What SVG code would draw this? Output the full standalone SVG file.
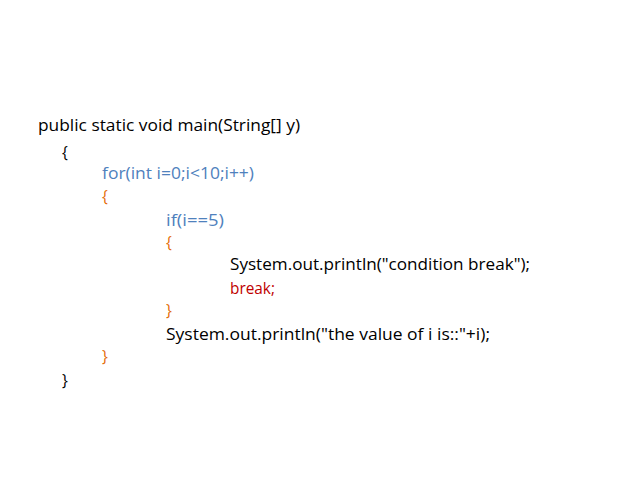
<svg xmlns="http://www.w3.org/2000/svg" width="638" height="479" viewBox="0 0 638 479">
<style>
text{font-family:"Open Sans","Liberation Sans",sans-serif;font-size:15.5px}
.k{fill:#000}.b{fill:#4f81bd}.o{fill:#e46c0a}.r{fill:#c00000}
</style>
<rect width="638" height="479" fill="#fff"/>
<g id="code">
<text class="k" x="38" y="131" textLength="262" lengthAdjust="spacingAndGlyphs">public static void main(String[] y)</text>
<text class="k" x="62" y="158">{</text>
<text class="b" x="102" y="179" textLength="152" lengthAdjust="spacingAndGlyphs">for(int i=0;i&lt;10;i++)</text>
<text class="o" x="102" y="202">{</text>
<text class="b" x="166" y="226" textLength="58" lengthAdjust="spacingAndGlyphs">if(i==5)</text>
<text class="o" x="166" y="248">{</text>
<text class="k" x="230" y="270" textLength="300" lengthAdjust="spacingAndGlyphs">System.out.println("condition break");</text>
<text class="r" x="230" y="294" textLength="45" lengthAdjust="spacingAndGlyphs">break;</text>
<text class="o" x="166" y="316">}</text>
<text class="k" x="166" y="340" textLength="324" lengthAdjust="spacingAndGlyphs">System.out.println("the value of i is::"+i);</text>
<text class="o" x="102" y="362">}</text>
<text class="k" x="62" y="386">}</text>
</g>
</svg>
